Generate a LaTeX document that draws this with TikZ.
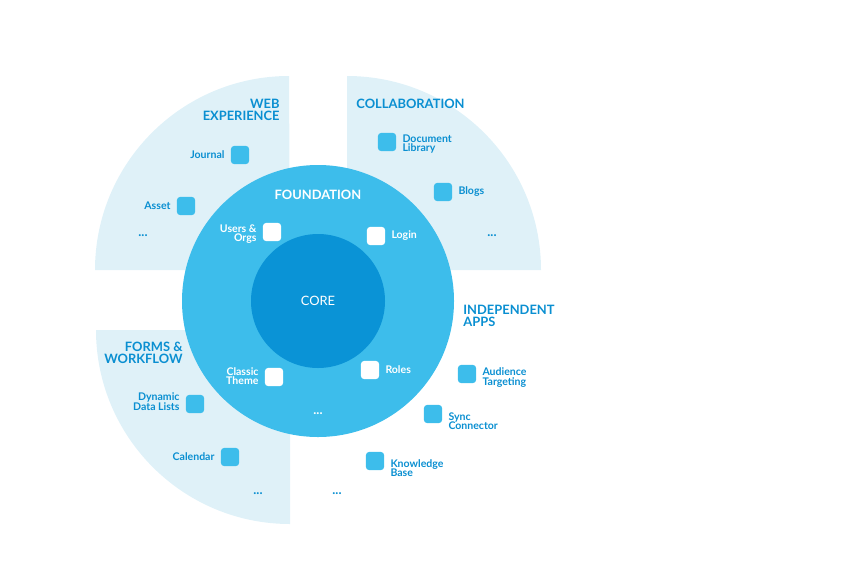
\documentclass[tikz,border=0pt]{standalone}
\usepackage{fontspec}
\setmainfont{Lato}
\usetikzlibrary{positioning}
\definecolor{pale}{HTML}{DFF1F8}
\definecolor{ring}{HTML}{3DBDEB}
\definecolor{corecol}{HTML}{0A93D6}
\definecolor{ink}{HTML}{0A8FD1}
\tikzset{
  box/.style={rounded corners=3pt, fill=ring, minimum size=0.55cm, inner sep=0pt},
  wbox/.style={box, fill=white},
  lbl/.style={text=ink, font=\bfseries\fontsize{9}{10}\selectfont, align=left, inner sep=1pt},
  wlbl/.style={lbl, text=white},
  head/.style={text=ink, font=\bfseries\fontsize{11}{12}\selectfont, align=left, inner sep=1pt},
}
\begin{document}
\begin{tikzpicture}[x=0.03cm, y=-0.03cm]
  \useasboundingbox (0,0) rectangle (849,581);

  % quarter discs
  \fill[pale] (290,270) -- (95,270) arc[start angle=180, end angle=270, radius=194] -- cycle;
  \fill[pale] (347,270) -- (347,76) arc[start angle=270, end angle=360, radius=194] -- cycle;
  \fill[pale] (290,330) -- (290,524) arc[start angle=90, end angle=180, radius=194] -- cycle;

  % rings
  \fill[ring] (318,301) circle[radius=136];
  \fill[corecol] (318,301) circle[radius=67];

  % web experience
  \node[head, align=right, anchor=east] (web) at (281,110) {WEB\\[-2pt]EXPERIENCE};
  \node[box] (journal) at (240,155) {};
  \node[lbl, left=4pt of journal] (journall) {Journal};
  \node[box] (asset) at (186,206) {};
  \node[lbl, left=4pt of asset] (assetl) {Asset};
  \node[head] (webdots) at (143,236) {...};

  % collaboration
  \node[head, anchor=west] (collab) at (355,104) {COLLABORATION};
  \node[box] (doclib) at (387,142) {};
  \node[lbl, right=4pt of doclib, yshift=-2pt] (doclibl) {Document\\[-2pt]Library};
  \node[box] (blogs) at (443,192) {};
  \node[lbl, right=4pt of blogs] (blogsl) {Blogs};
  \node[head] (coldots) at (492,236) {...};

  % foundation
  \node[head, text=white, align=center] (found) at (318,195) {FOUNDATION};
  \node[wbox] (users) at (272,232) {};
  \node[wlbl, align=right, left=4pt of users, yshift=-2pt] (usersl) {Users \&\\[-2pt]Orgs};
  \node[wbox] (login) at (376,236) {};
  \node[wlbl, right=4pt of login] (loginl) {Login};
  \node[head, text=white, font=\fontsize{11}{12}\selectfont] (core) at (318,301) {CORE};
  \node[wbox] (theme) at (274,377) {};
  \node[wlbl, align=right, left=4pt of theme, yshift=1pt] (themel) {Classic\\[-2pt]Theme};
  \node[wbox] (roles) at (370,370) {};
  \node[wlbl, right=4pt of roles] (rolesl) {Roles};
  \node[head, text=white] (founddots) at (318,414) {...};

  % independent apps
  \node[head, anchor=west] (indep) at (462,316) {INDEPENDENT\\[-2pt]APPS};
  \node[box] (aud) at (467,374) {};
  \node[lbl, right=4pt of aud, yshift=-3pt] (audl) {Audience\\[-2pt]Targeting};
  \node[box] (sync) at (433,414) {};
  \node[lbl, right=4pt of sync, yshift=-6pt] (syncl) {Sync\\[-2pt]Connector};
  \node[box] (kb) at (375,461) {};
  \node[lbl, right=4pt of kb, yshift=-6pt] (kbl) {Knowledge\\[-2pt]Base};
  \node[head] (inddots) at (337,494) {...};

  % forms and workflow
  \node[head, align=right, anchor=east] (forms) at (184,353) {FORMS \&\\[-2pt]WORKFLOW};
  \node[box] (ddl) at (195,404) {};
  \node[lbl, align=right, left=4pt of ddl, yshift=2pt] (ddll) {Dynamic\\[-2pt]Data Lists};
  \node[box] (cal) at (230,457) {};
  \node[lbl, left=4pt of cal] (call) {Calendar};
  \node[head] (formdots) at (258,494) {...};
\end{tikzpicture}
\end{document}
